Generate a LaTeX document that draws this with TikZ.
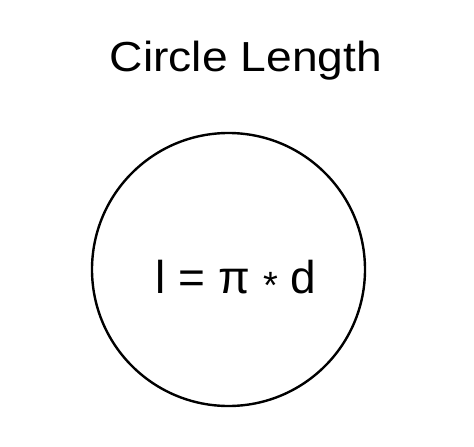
\documentclass[tikz,border=0pt]{standalone}
\usepackage{fontspec}
\setmainfont{Liberation Sans}
\begin{document}
\begin{tikzpicture}[x=1pt,y=-1pt,
  titletext/.style={font=\fontsize{42}{46}\selectfont, inner sep=0pt, anchor=base},
  formulatext/.style={font=\fontsize{46}{52}\selectfont, inner sep=0pt, anchor=base},
  ring/.style={draw=black, line width=2.4pt}]
\useasboundingbox[fill=white] (0,0) rectangle (474,447);
\node[ring, circle, minimum size=273pt, inner sep=0pt] (c) at (228.5,269.5) {};
\node[titletext, xscale=1.1] (title) at (246,71) {Circle Length};
\node[formulatext] (f) at (236,293) {l = π \raisebox{-0.12em}{\fontsize{38}{42}\selectfont *} d};
\end{tikzpicture}
\end{document}
